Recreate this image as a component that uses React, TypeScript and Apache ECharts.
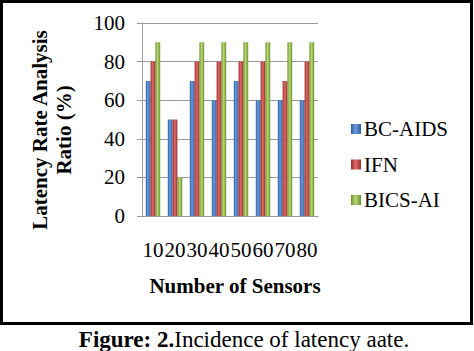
import React, { useEffect, useRef } from "react";
import * as echarts from "echarts";

const categories = ["10", "20", "30", "40", "50", "60", "70", "80"];
const bcAids = [70, 50, 70, 60, 70, 60, 60, 60];
const ifn = [80, 50, 80, 80, 80, 80, 70, 80];
const bicsAi = [90, 20, 90, 90, 90, 90, 90, 90];
const seriesNames = ["BC-AIDS", "IFN", "BICS-AI"];
const yTicks = { min: 0, max: 100, interval: 20 };

const FONT = "Liberation Serif";

function grad(dark: string, light: string) {
  return new echarts.graphic.LinearGradient(0, 0, 1, 0, [
    { offset: 0, color: dark },
    { offset: 0.45, color: light },
    { offset: 1, color: dark },
  ]);
}

export default function App() {
  const ref = useRef<HTMLDivElement>(null);
  useEffect(() => {
    if (!ref.current) return;
    const chart = echarts.init(ref.current, undefined, { renderer: "svg" });
    const colors = [
      grad("#2f5f9a", "#6a9be0"),
      grad("#9a2f2c", "#e06a66"),
      grad("#6f8f2f", "#b5d672"),
    ];
    const data = [bcAids, ifn, bicsAi];
    chart.setOption({
      animation: false,
      backgroundColor: "#ffffff",
      textStyle: { fontFamily: FONT },
      grid: { left: 142, right: 156, top: 23, bottom: 135 },
      legend: {
        orient: "vertical",
        left: 351,
        top: 118.5,
        padding: 0,
        itemWidth: 10,
        itemHeight: 10,
        itemGap: 14.5,
        icon: "rect",
        textStyle: { fontFamily: FONT, fontSize: 21, color: "#000", padding: [0, 0, 0, -2] },
        data: seriesNames,
      },
      xAxis: {
        type: "category",
        data: categories,
        axisLine: { show: true, lineStyle: { color: "#999", width: 1 } },
        axisTick: { show: false },
        axisLabel: { interval: 0, fontFamily: FONT, fontSize: 21, color: "#000", margin: 23 },
      },
      yAxis: {
        type: "value",
        min: yTicks.min,
        max: yTicks.max,
        interval: yTicks.interval,
        axisLine: { show: true, lineStyle: { color: "#999", width: 1 } },
        axisTick: { show: true, length: 5, lineStyle: { color: "#999" } },
        splitLine: { show: true, lineStyle: { color: "#999", width: 1 } },
        axisLabel: { fontFamily: FONT, fontSize: 21, color: "#000", margin: 17 },
      },
      series: seriesNames.map((name, i) => ({
        name,
        type: "bar",
        data: data[i],
        barWidth: 4.8,
        barGap: "0%",
        itemStyle: { color: colors[i] },
      })),
      graphic: [
        {
          type: "rect",
          shape: { x: 1.5, y: 1.5, width: 470, height: 322 },
          style: { fill: "none", stroke: "#000", lineWidth: 3 },
          silent: true,
        },
        {
          type: "text",
          x: 40,
          y: 130,
          rotation: Math.PI / 2,
          style: {
            text: "Latency Rate Analysis",
            fontFamily: FONT,
            fontSize: 21,
            fontWeight: "bold",
            fill: "#000",
            align: "center",
            verticalAlign: "middle",
          },
        },
        {
          type: "text",
          x: 64,
          y: 130,
          rotation: Math.PI / 2,
          style: {
            text: "Ratio (%)",
            fontFamily: FONT,
            fontSize: 21,
            fontWeight: "bold",
            fill: "#000",
            align: "center",
            verticalAlign: "middle",
          },
        },
        {
          type: "text",
          x: 235,
          y: 286,
          style: {
            text: "Number of Sensors",
            fontFamily: FONT,
            fontSize: 21,
            fontWeight: "bold",
            fill: "#000",
            align: "center",
            verticalAlign: "middle",
          },
        },
        {
          type: "text",
          x: 244,
          y: 339.5,
          style: {
            text: "{b|Figure: 2.}{n|Incidence of latency aate.}",
            align: "center",
            verticalAlign: "middle",
            rich: {
              b: { fontFamily: FONT, fontSize: 23, fontWeight: "bold", fill: "#000", color: "#000" },
              n: { fontFamily: FONT, fontSize: 23, fill: "#000", color: "#000" },
            },
          },
        },
      ],
    });
    return () => chart.dispose();
  }, []);
  return (
    <div
      ref={ref}
      style={{ position: "fixed", left: 0, top: 0, width: 474, height: 351 }}
    />
  );
}
